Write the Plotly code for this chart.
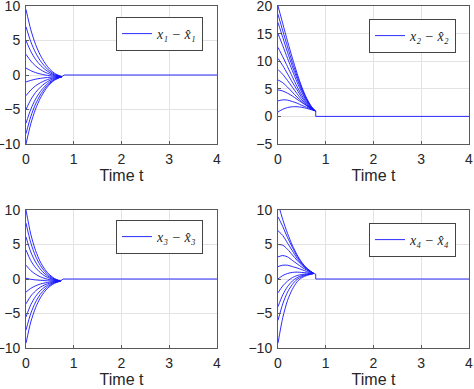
import plotly.graph_objects as go

# ---------------- data ----------------
T1 = [0, 0.1, 0.2, 0.3, 0.4, 0.5, 0.6, 0.7, 0.75]
E1 = [
    [9.5, 6.58, 4.43, 2.87, 1.7, 0.82, 0.24, -0.10, -0.25],
    [7, 4.83, 3.23, 2.07, 1.2, 0.55, 0.11, -0.14, -0.25],
    [5, 3.43, 2.27, 1.43, 0.8, 0.33, 0.01, -0.17, -0.25],
    [3, 2.03, 1.31, 0.79, 0.4, 0.11, -0.09, -0.2, -0.25],
    [1, 0.63, 0.35, 0.15, 0.0, -0.11, -0.19, -0.23, -0.25],
    [-1, -0.78, -0.61, -0.49, -0.4, -0.33, -0.29, -0.26, -0.25],
    [-3, -2.18, -1.57, -1.13, -0.8, -0.55, -0.39, -0.29, -0.25],
    [-5, -3.58, -2.53, -1.77, -1.2, -0.77, -0.49, -0.32, -0.25],
    [-7, -4.98, -3.49, -2.41, -1.6, -0.99, -0.59, -0.35, -0.25],
    [-8.5, -6.03, -4.21, -2.89, -1.9, -1.16, -0.66, -0.37, -0.25],
    [-10, -7.08, -4.93, -3.37, -2.2, -1.32, -0.74, -0.4, -0.25],
]
TAIL1_T = [0.75, 0.8, 4]
TAIL1_V = [-0.25, 0, 0]

T2 = [0, 0.1, 0.2, 0.3, 0.4, 0.5, 0.6, 0.7, 0.78]
E2 = [
    [20, 16.8, 13.6, 10.6, 7.8, 5.3, 3.3, 1.8, 1.0],
    [18.5, 15.5, 12.6, 9.8, 7.3, 5.0, 3.1, 1.7, 1.0],
    [17, 14.3, 11.6, 9.1, 6.8, 4.7, 2.95, 1.65, 1.0],
    [15, 12.8, 10.5, 8.3, 6.2, 4.3, 2.75, 1.6, 1.0],
    [12.5, 10.8, 9.0, 7.2, 5.4, 3.8, 2.5, 1.5, 1.0],
    [10.5, 9.2, 7.7, 6.2, 4.8, 3.4, 2.3, 1.45, 1.0],
    [8.5, 7.6, 6.5, 5.3, 4.1, 3.0, 2.1, 1.4, 1.0],
    [6.6, 6.1, 5.3, 4.4, 3.5, 2.7, 1.95, 1.35, 1.0],
    [4.8, 4.6, 4.2, 3.7, 3.1, 2.5, 1.95, 1.45, 1.0],
    [2.8, 3.0, 2.95, 2.7, 2.4, 2.0, 1.65, 1.3, 1.0],
    [0.8, 1.3, 1.6, 1.75, 1.75, 1.65, 1.45, 1.2, 1.0],
]
TAIL2_T = [0.78, 0.79, 0.79, 4]
TAIL2_V = [1.0, 1.0, 0, 0]

T3 = [0, 0.1, 0.2, 0.3, 0.4, 0.5, 0.6, 0.72]
E3 = [
    [10, 6.5, 4.13, 2.48, 1.35, 0.58, 0.06, -0.3],
    [8.1, 5.24, 3.31, 1.97, 1.04, 0.41, -0.01, -0.3],
    [6.1, 3.92, 2.45, 1.43, 0.72, 0.24, -0.08, -0.3],
    [4.2, 2.67, 1.64, 0.92, 0.42, 0.08, -0.14, -0.3],
    [2.0, 1.22, 0.69, 0.32, 0.07, -0.1, -0.22, -0.3],
    [0.1, -0.04, -0.13, -0.19, -0.24, -0.27, -0.29, -0.3],
    [-1.9, -1.36, -0.99, -0.73, -0.56, -0.44, -0.36, -0.3],
    [-3.6, -2.48, -1.72, -1.19, -0.83, -0.58, -0.42, -0.3],
    [-5.5, -3.73, -2.54, -1.7, -1.13, -0.74, -0.48, -0.3],
    [-7.4, -4.99, -3.35, -2.22, -1.44, -0.9, -0.55, -0.3],
    [-9.3, -6.24, -4.17, -2.73, -1.74, -1.07, -0.62, -0.3],
]
TAIL3_T = [0.72, 0.78, 4]
TAIL3_V = [-0.3, 0, 0]

T4 = [0, 0.1, 0.2, 0.3, 0.4, 0.5, 0.6, 0.7, 0.75]
E4 = [
    [11, 8.6, 6.6, 4.9, 3.5, 2.4, 1.6, 1.05, 0.8],
    [9, 7.6, 6.0, 4.6, 3.3, 2.3, 1.55, 1.0, 0.8],
    [7, 6.3, 5.2, 4.1, 3.0, 2.15, 1.5, 1.0, 0.8],
    [5, 4.9, 4.3, 3.5, 2.7, 2.0, 1.4, 1.0, 0.8],
    [3.2, 3.4, 3.2, 2.7, 2.2, 1.7, 1.3, 0.95, 0.8],
    [1.8, 2.0, 2.0, 1.8, 1.6, 1.35, 1.1, 0.9, 0.8],
    [0, 0.5, 0.8, 0.95, 1.0, 0.95, 0.9, 0.85, 0.8],
    [-2, -1.0, -0.3, 0.2, 0.5, 0.65, 0.75, 0.8, 0.8],
    [-4, -2.3, -1.1, -0.3, 0.2, 0.5, 0.65, 0.75, 0.8],
    [-6, -3.6, -1.9, -0.8, -0.05, 0.35, 0.6, 0.72, 0.8],
    [-9.3, -5.6, -3.1, -1.5, -0.4, 0.2, 0.5, 0.7, 0.8],
]
TAIL4_T = [0.75, 0.79, 0.79, 4]
TAIL4_V = [0.8, 0.7, 0, 0]

LABELS = [
    "<i>x₁ − x̂₁</i>",
    "<i>x₂ − x̂₂</i>",
    "<i>x₃ − x̂₃</i>",
    "<i>x₄ − x̂₄</i>",
]
YRANGES = [[-10, 10], [-5, 20], [-10, 10], [-10, 10]]
XTICKS = [0, 1, 2, 3, 4]

# ---------------- figure ----------------
W, H = 474, 389
BLUE = "#1414ff"
fig = go.Figure()

panels = [
    (T1, E1, TAIL1_T, TAIL1_V),
    (T2, E2, TAIL2_T, TAIL2_V),
    (T3, E3, TAIL3_T, TAIL3_V),
    (T4, E4, TAIL4_T, TAIL4_V),
]
# pixel boxes: (left, right, top, bottom)
boxes = [(26, 217, 6, 144), (278, 469, 6, 144), (26, 217, 210, 348), (278, 469, 210, 348)]
legpos = [(203, 17), (456, 19), (203, 220), (456, 223)]

for i, (T, E, TT, TV) in enumerate(panels):
    ax = "" if i == 0 else str(i + 1)
    leg = "legend" if i == 0 else "legend" + str(i + 1)
    for j, curve in enumerate(E):
        fig.add_trace(go.Scatter(
            x=T, y=curve, mode="lines",
            line=dict(color=BLUE, width=0.9, shape="spline", smoothing=0.8),
            xaxis="x" + ax, yaxis="y" + ax,
            name=LABELS[i], showlegend=(j == 0), legend=leg,
        ))
    fig.add_trace(go.Scatter(
        x=TT, y=TV, mode="lines",
        line=dict(color=BLUE, width=0.9),
        xaxis="x" + ax, yaxis="y" + ax, showlegend=False,
    ))

axis_common = dict(
    showline=True, mirror=True, linecolor="#5a5a5a", linewidth=1,
    showgrid=True, gridcolor="#e3e3e3", gridwidth=1, zeroline=False,
    ticks="inside", ticklen=3, tickcolor="#5a5a5a",
    tickfont=dict(family="Liberation Sans, Arial", size=14, color="#262626"),
    automargin=False, ticklabeloverflow="allow",
)

layout = dict(
    width=W, height=H, margin=dict(l=0, r=0, t=0, b=0, autoexpand=False),
    paper_bgcolor="white", plot_bgcolor="white",
)
for i, (l, r, t, b) in enumerate(boxes):
    ax = "" if i == 0 else str(i + 1)
    layout["xaxis" + ax] = dict(
        axis_common, domain=[l / W, r / W], range=[0, 4],
        tickvals=XTICKS, anchor="y" + ax, ticklabelstandoff=2,
        title=dict(text="Time t", font=dict(family="Liberation Sans, Arial", size=16, color="#262626"), standoff=4),
    )
    layout["yaxis" + ax] = dict(
        axis_common, domain=[1 - b / H, 1 - t / H], range=YRANGES[i],
        dtick=5, anchor="x" + ax, tickformat="d", ticklabelstandoff=2,
    )
    lx, ly = legpos[i]
    leg = "legend" if i == 0 else "legend" + str(i + 1)
    layout[leg] = dict(
        x=lx / W, y=1 - ly / H, xanchor="right", yanchor="top",
        bgcolor="white", bordercolor="#444", borderwidth=1,
        font=dict(family="Liberation Serif, serif", size=14, color="#262626"),
        itemwidth=30, tracegroupgap=0,
    )

fig.update_layout(**layout)
fig.write_html(
    "out.html",
    config={"displayModeBar": False},
    post_script="document.body.style.margin='0';document.body.style.overflow='hidden';",
)
